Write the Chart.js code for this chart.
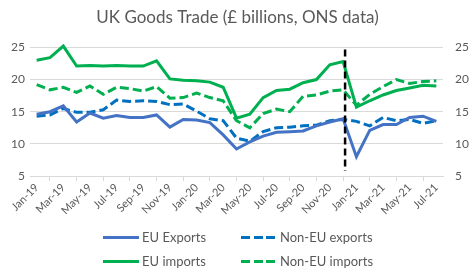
<!DOCTYPE html>
<html>
<head>
<meta charset="utf-8">
<script src="https://cdn.jsdelivr.net/npm/chart.js@4.4.0/dist/chart.umd.min.js"></script>
<style>
    html, body { margin: 0; padding: 0; background: #fff; }
    #wrap { position: relative; width: 475px; height: 278px; }
    .swatch { position: absolute; height: 3px; }
    .label { position: absolute; font: 13px Lato, sans-serif; color: #595959; line-height: 16px; white-space: nowrap; }
</style>
</head>
<body>
<div id="wrap">
    <canvas id="chart" width="475" height="278"></canvas>
    <div id="legend"></div>
</div>
<script>
const months = [
    'Jan-19', 'Feb-19', 'Mar-19', 'Apr-19', 'May-19', 'Jun-19', 'Jul-19', 'Aug-19', 'Sep-19', 'Oct-19', 'Nov-19', 'Dec-19',
    'Jan-20', 'Feb-20', 'Mar-20', 'Apr-20', 'May-20', 'Jun-20', 'Jul-20', 'Aug-20', 'Sep-20', 'Oct-20', 'Nov-20', 'Dec-20',
    'Jan-21', 'Feb-21', 'Mar-21', 'Apr-21', 'May-21', 'Jun-21', 'Jul-21'
];

const euExports = [14.6, 15.0, 15.9, 13.4, 14.8, 14.0, 14.4, 14.1, 14.1, 14.5, 12.6, 13.8,
    13.7, 13.3, 11.4, 9.2, 10.3, 11.2, 11.8, 11.9, 12.0, 12.8, 13.4, 13.9,
    8.0, 12.1, 13.0, 13.0, 14.1, 14.3, 13.5];
const nonEuExports = [14.3, 14.5, 15.5, 14.9, 14.9, 15.3, 16.8, 16.6, 16.7, 16.6, 16.1, 16.2,
    15.1, 13.9, 13.6, 10.9, 10.4, 11.9, 12.5, 12.6, 12.8, 12.9, 13.6, 13.8,
    13.5, 12.8, 14.1, 13.6, 13.8, 13.2, 13.6];
const euImports = [23.0, 23.4, 25.2, 22.1, 22.2, 22.1, 22.2, 22.1, 22.1, 22.9, 20.1, 19.9,
    19.8, 19.6, 18.8, 14.0, 14.6, 17.2, 18.3, 18.5, 19.5, 20.0, 22.3, 22.8,
    15.7, 16.7, 17.6, 18.3, 18.7, 19.1, 19.0];
const nonEuImports = [19.2, 18.4, 18.8, 18.0, 19.0, 17.7, 18.8, 18.6, 18.2, 18.9, 17.1, 17.2,
    17.9, 17.2, 16.7, 13.6, 12.5, 14.7, 15.4, 15.0, 17.4, 17.6, 18.2, 18.4,
    16.0, 17.7, 18.9, 20.0, 19.4, 19.7, 19.8];

const seriesNames = ['EU Exports', 'Non-EU exports', 'EU imports', 'Non-EU imports'];
const yMin = 5;
const yMax = 25;
const yStep = 5;
const brexitMonth = 'Dec-20';

const textColor = '#595959';
const gridColor = '#D9D9D9';
const dash = [9, 4];

const datasets = [
    { label: seriesNames[0], data: euExports, borderColor: '#4472C4' },
    { label: seriesNames[1], data: nonEuExports, borderColor: '#0070C0', borderDash: dash },
    { label: seriesNames[2], data: euImports, borderColor: '#00B050' },
    { label: seriesNames[3], data: nonEuImports, borderColor: '#00B050', borderDash: dash }
];

// dashed black marker for the end of the transition period
const dividerPlugin = {
    id: 'divider',
    afterDatasetsDraw(chart) {
        const x = chart.scales.x;
        const area = chart.chartArea;
        const px = x.getPixelForValue(months.indexOf(brexitMonth)) + 2;
        const ctx = chart.ctx;
        ctx.save();
        ctx.strokeStyle = '#000';
        ctx.lineWidth = 2.5;
        ctx.setLineDash([7, 4]);
        ctx.beginPath();
        ctx.moveTo(px, area.top + 2);
        ctx.lineTo(px, area.bottom - 5);
        ctx.stroke();
        ctx.restore();
    }
};

new Chart(document.getElementById('chart'), {
    type: 'line',
    data: { labels: months, datasets: datasets },
    options: {
        responsive: false,
        animation: false,
        devicePixelRatio: 1,
        layout: { padding: 0 },
        elements: {
            point: { radius: 0 },
            line: { tension: 0, borderWidth: 3, fill: false }
        },
        datasets: { line: { clip: 4 } },
        plugins: {
            legend: { display: false },
            tooltip: { enabled: false },
            title: {
                display: true,
                text: 'UK Goods Trade (£ billions, ONS data)',
                color: textColor,
                font: { family: 'Lato', size: 17, weight: 'normal' },
                padding: { top: 7, bottom: 20 }
            }
        },
        scales: {
            x: {
                offset: true,
                grid: { offset: true, drawOnChartArea: false, tickLength: 5, color: gridColor },
                border: { color: gridColor },
                ticks: {
                    autoSkip: false,
                    minRotation: 45,
                    maxRotation: 45,
                    color: textColor,
                    font: { family: 'Lato', size: 11 },
                    padding: 0,
                    callback(value, index) {
                        return index % 2 === 0 ? months[index] : null;
                    }
                },
                afterFit(scale) { scale.height = 102; }
            },
            y: {
                min: yMin,
                max: yMax,
                ticks: { stepSize: yStep, color: textColor, padding: 5, font: { family: 'Lato', size: 12 } },
                grid: { color: gridColor, drawTicks: false },
                border: { display: false },
                afterFit(scale) { scale.width = 30; }
            },
            y2: {
                position: 'right',
                min: yMin,
                max: yMax,
                ticks: { stepSize: yStep, color: textColor, padding: 12, font: { family: 'Lato', size: 12 } },
                grid: { display: false, drawTicks: false },
                border: { display: false },
                afterFit(scale) { scale.width = 32; }
            }
        }
    },
    plugins: [dividerPlugin]
});

// legend in two columns like the original
const legendSpots = [[103, 142, 237], [241, 280, 237], [103, 142, 261], [241, 280, 261]];
const legend = document.getElementById('legend');
datasets.forEach((ds, i) => {
    const [lineX, textX, y] = legendSpots[i];
    const sw = document.createElement('div');
    sw.className = 'swatch';
    sw.style.left = lineX + 'px';
    sw.style.top = (y - 1.5) + 'px';
    if (ds.borderDash) {
        sw.style.width = '34px';
        sw.style.background = `repeating-linear-gradient(to right, ${ds.borderColor} 0 9px, transparent 9px 12.5px)`;
    } else {
        sw.style.width = '36px';
        sw.style.background = ds.borderColor;
    }
    legend.appendChild(sw);

    const lb = document.createElement('div');
    lb.className = 'label';
    lb.style.left = textX + 'px';
    lb.style.top = (y - 8) + 'px';
    lb.textContent = ds.label;
    legend.appendChild(lb);
});
</script>
</body>
</html>
